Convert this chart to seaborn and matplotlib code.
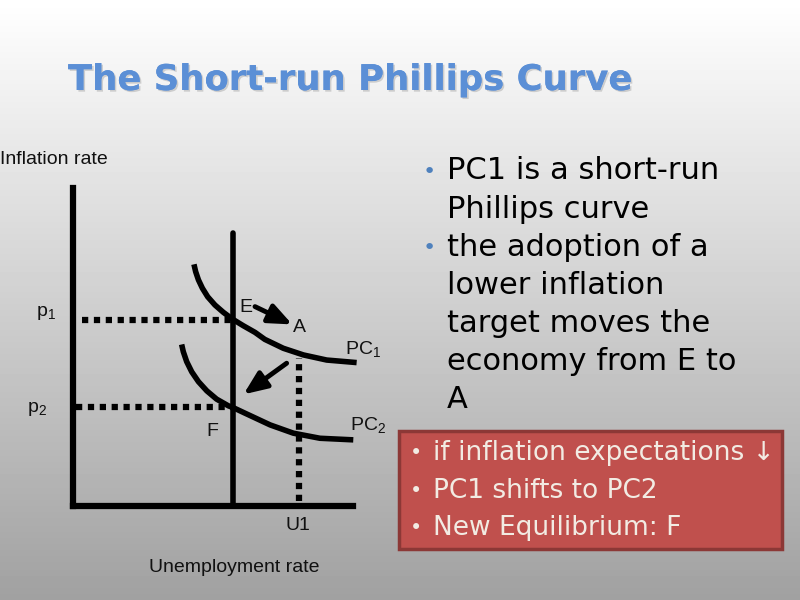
import numpy as np
import pandas as pd
import matplotlib
matplotlib.use("Agg")
import matplotlib.pyplot as plt
import matplotlib.patheffects as pe
from matplotlib.patches import FancyBboxPatch
import seaborn as sns

# curve points (unemployment, inflation) in diagram units
pc1_u = [4.32, 4.38, 4.48, 4.62, 4.81, 5.07, 5.37, 5.69, 6.08, 6.50, 6.85, 7.51, 8.23, 9.06, 10.13]
pc1_pi = [7.60, 7.37, 7.11, 6.85, 6.58, 6.32, 6.09, 5.88, 5.67, 5.46, 5.24, 4.96, 4.75, 4.59, 4.51]
pc2_u = [3.88, 3.94, 4.06, 4.24, 4.48, 4.78, 5.13, 5.55, 5.73, 6.14, 7.04, 7.87, 8.82, 10.01]
pc2_pi = [5.08, 4.85, 4.54, 4.22, 3.91, 3.62, 3.36, 3.15, 3.09, 2.92, 2.55, 2.29, 2.13, 2.08]

u_natural = 5.73      # vertical line through E and F
u_natural_top = 8.58
u1 = 8.08
u1_top = 4.65
p1 = 5.86
p2 = 3.12

title = "The Short-run Phillips Curve"
bullets = ["PC1 is a short-run\nPhillips curve",
           "the adoption of a\nlower inflation\ntarget moves the\neconomy from E to\nA"]
box_items = ["if inflation expectations \u2193",
             "PC1 shifts to PC2",
             "New Equilibrium: F"]

sns.set_style("white")
plt.rcParams["font.family"] = ["Liberation Sans", "DejaVu Sans"]

fig = plt.figure(figsize=(8, 6), dpi=100)

# background gradient
bg = fig.add_axes([0, 0, 1, 1], zorder=-10)
grad = np.linspace(1.0, 0.63, 300).reshape(-1, 1)
bg.imshow(grad, aspect="auto", cmap="gray", vmin=0, vmax=1, extent=[0, 1, 0, 1])
bg.set_axis_off()

W, H = 800, 600
def fx(px):
    return px / W
def fy(py):
    return 1 - py / H

# title
fig.text(fx(68), fy(80), title, fontsize=25.5, fontweight="bold", color="#5B8FD6",
         family="DejaVu Sans", va="center", ha="left",
         path_effects=[pe.withSimplePatchShadow(offset=(1.2, -1.2), shadow_rgbFace="#888888", alpha=0.35),
                       pe.Normal()])

# diagram axes: left spine x=73, bottom y=506, right 353, top 188
ax = fig.add_axes([fx(73), fy(506), (353 - 73) / W, (506 - 188) / H])
ax.set_xlim(0, 10)
ax.set_ylim(0, 10)
ax.patch.set_alpha(0)
sns.despine(ax=ax)
for s in ["left", "bottom"]:
    ax.spines[s].set_linewidth(4.5)
    ax.spines[s].set_color("black")
    ax.spines[s].set_capstyle("projecting")
ax.set_xticks([])
ax.set_yticks([])

curves = pd.DataFrame({
    "u": pc1_u + pc2_u,
    "pi": pc1_pi + pc2_pi,
    "curve": ["PC1"] * len(pc1_u) + ["PC2"] * len(pc2_u),
})
sns.lineplot(data=curves, x="u", y="pi", units="curve", estimator=None, sort=False,
             color="black", lw=4, ax=ax, clip_on=False, legend=False,
             solid_joinstyle="round", solid_capstyle="butt")

solid = dict(estimator=None, sort=False, color="black", ax=ax, clip_on=False)
sns.lineplot(x=[u_natural, u_natural], y=[0, u_natural_top], lw=4, **solid)
dotted = (0, (1, 0.9))
sns.lineplot(x=[0.32, u_natural], y=[p1, p1], lw=4.5, linestyle=dotted, **solid)
sns.lineplot(x=[0.1, u_natural], y=[p2, p2], lw=4.5, linestyle=dotted, **solid)
sns.lineplot(x=[u1, u1], y=[0.15, u1_top], lw=4.5, linestyle=dotted, **solid)

arrow = dict(arrowstyle="-|>,head_length=1.0,head_width=0.42", color="black", lw=3.5,
             shrinkA=0, shrinkB=0, mutation_scale=14)
ax.annotate("", xy=(7.83, 5.71), xytext=(6.50, 6.27), arrowprops=arrow, annotation_clip=False)
ax.annotate("", xy=(6.09, 3.51), xytext=(7.63, 4.49), arrowprops=arrow, annotation_clip=False)

ax.set_xlabel("")
ax.set_ylabel("")

lab = dict(fontsize=14, color="#111111", va="center")
fig.text(fx(0), fy(160), "Inflation rate", ha="left", **lab)
fig.text(fx(234), fy(567), "Unemployment rate", ha="center", **lab)
fig.text(fx(36), fy(313), r"p$\mathregular{_1}$", ha="left", **lab)
fig.text(fx(27), fy(409), r"p$\mathregular{_2}$", ha="left", **lab)
fig.text(fx(246), fy(307), "E", ha="center", **lab)
fig.text(fx(299), fy(327), "A", ha="center", **lab)
fig.text(fx(212), fy(431), "F", ha="center", **lab)
fig.text(fx(345), fy(349), r"PC$\mathregular{_1}$", ha="left", **lab)
fig.text(fx(350), fy(425), r"PC$\mathregular{_2}$", ha="left", **lab)
fig.text(fx(298), fy(526), "U1", ha="center", **lab)

# right-hand bullets
line_h = 38
y0 = 171
row = 0
for item in bullets:
    lines = item.split("\n")
    fig.text(fx(429), fy(y0 + row * line_h + 1), "\u2022", fontsize=16, color="#4F81BD",
             family="DejaVu Sans", ha="center", va="center")
    for ln in lines:
        fig.text(fx(447), fy(y0 + row * line_h), ln, fontsize=22, color="black",
                 family="DejaVu Sans", ha="left", va="center")
        row += 1

# red box
box = FancyBboxPatch((fx(399), fy(549)), (782 - 399) / W, (549 - 431) / H,
                     boxstyle="square,pad=0", transform=fig.transFigure,
                     facecolor="#C0504D", edgecolor="#8C3836", lw=2.5, zorder=2)
fig.patches.append(box)
for i, item in enumerate(box_items):
    yy = 453 + i * 37.5
    fig.text(fx(416), fy(yy), "\u2022", fontsize=15, color="#F2EBE3",
             family="DejaVu Sans", ha="center", va="center", zorder=3)
    fig.text(fx(433), fy(yy), item, fontsize=19, color="#F2EBE3",
             family="DejaVu Sans", ha="left", va="center", zorder=3)

fig.savefig("out.png", dpi=100)
